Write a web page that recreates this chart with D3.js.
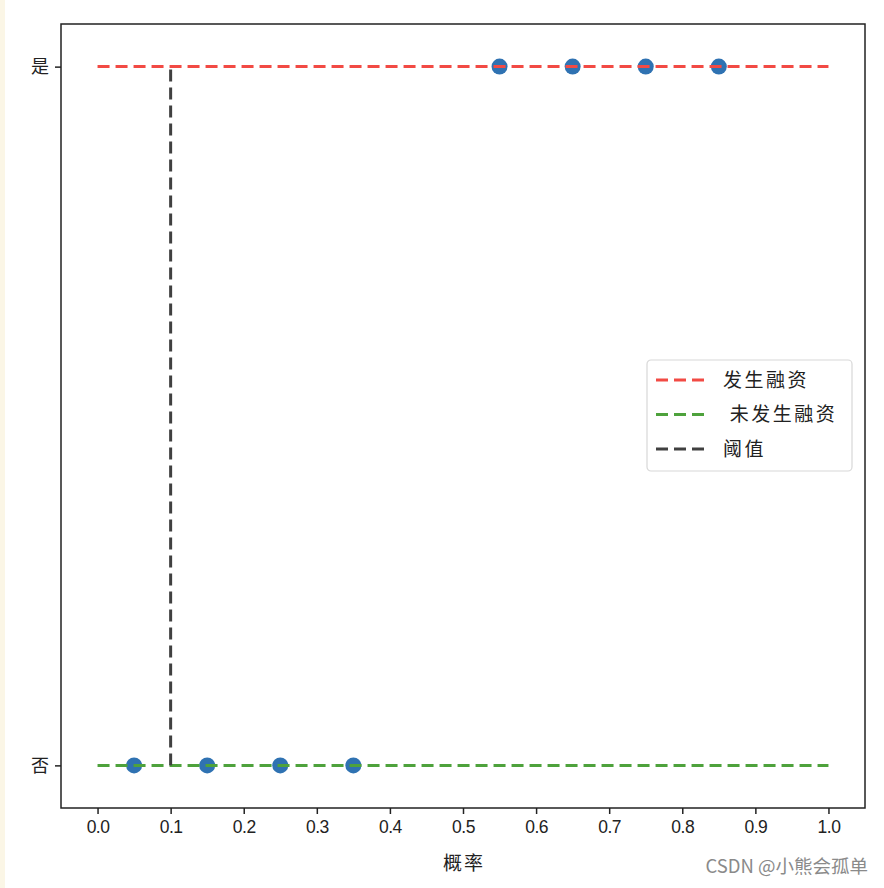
<!DOCTYPE html>
<html lang="en">
<head>
<meta charset="UTF-8">
<title>阈值</title>
<style>
  html, body { margin: 0; padding: 0; background: #fff; }
  body { width: 884px; height: 888px; overflow: hidden; }
  svg { display: block; font-family: "Noto Sans CJK SC", "DejaVu Sans", sans-serif; }
</style>
</head>
<body>
<svg width="884" height="888"></svg>
<script src="https://cdnjs.cloudflare.com/ajax/libs/d3/7.8.5/d3.min.js"></script>
<script>
  // chart data
  const probYes = [0.55, 0.65, 0.75, 0.85];
  const probNo = [0.05, 0.15, 0.25, 0.35];
  const threshold = 0.1;
  const xTicks = [0, 0.1, 0.2, 0.3, 0.4, 0.5, 0.6, 0.7, 0.8, 0.9, 1.0];
  const yLabels = ['否', '是'];
  const legendNames = ['发生融资', ' 未发生融资', '阈值'];

  const svg = d3.select('svg');

  // cream strip at the left edge of the screenshot
  svg.append('rect').attr('x', 0).attr('y', 0).attr('width', 5).attr('height', 888).attr('fill', '#fbf6e6');

  const margin = {top: 24, right: 19, bottom: 80, left: 61};
  const width = 884 - margin.left - margin.right;
  const height = 888 - margin.top - margin.bottom;
  const g = svg.append('g').attr('transform', `translate(${margin.left},${margin.top})`);

  const x = d3.scaleLinear().domain([-0.05, 1.05]).range([0, width]);
  const y = d3.scaleLinear().domain([-0.061, 1.061]).range([height, 0]);

  // axes
  const xAxis = g.append('g')
    .attr('transform', `translate(0,${height})`)
    .call(d3.axisBottom(x).tickValues(xTicks).tickFormat(d3.format('.1f')).tickSize(6).tickPadding(7));
  const yAxis = g.append('g')
    .call(d3.axisLeft(y).tickValues([0, 1]).tickFormat(d => yLabels[d]).tickSize(6).tickPadding(6));

  [xAxis, yAxis].forEach(a => {
    a.select('.domain').remove();
    a.selectAll('line').attr('stroke', '#222').attr('stroke-width', 1.5);
    a.selectAll('text').attr('fill', '#222').attr('font-size', 17.5)
      .attr('font-family', '"Liberation Sans", Arial, sans-serif')
      .attr('letter-spacing', -0.5);
  });
  yAxis.selectAll('text').attr('font-family', '"Noto Sans CJK SC", sans-serif')
    .attr('font-size', 18).attr('letter-spacing', 0).attr('dy', '0.35em');

  // scatter points
  const pts = probNo.map(p => ({p, v: 0})).concat(probYes.map(p => ({p, v: 1})));
  g.selectAll('circle.pt').data(pts).enter()
    .append('circle')
    .attr('class', 'pt')
    .attr('cx', d => x(d.p))
    .attr('cy', d => y(d.v))
    .attr('r', 8)
    .attr('fill', '#2f72b2');

  // dashed lines
  const line = d3.line().x(d => x(d[0])).y(d => y(d[1]));
  const series = [
    {name: legendNames[0], color: '#f24a44', pts: [[0, 1], [1, 1]]},
    {name: legendNames[1], color: '#4ea23c', pts: [[0, 0], [1, 0]]},
    {name: legendNames[2], color: '#404040', pts: [[threshold, 0], [threshold, 1]]}
  ];
  g.selectAll('path.ser').data(series).enter()
    .append('path')
    .attr('class', 'ser')
    .attr('fill', 'none')
    .attr('stroke', d => d.color)
    .attr('stroke-width', 3)
    .attr('stroke-dasharray', '12,6')
    .attr('d', d => line(d.pts));

  // frame
  g.append('rect')
    .attr('width', width).attr('height', height)
    .attr('fill', 'none').attr('stroke', '#222').attr('stroke-width', 1.5);

  // x label
  g.append('text')
    .attr('x', width / 2 + 1).attr('y', height + 62)
    .attr('text-anchor', 'middle').attr('font-size', 19).attr('fill', '#222')
    .attr('letter-spacing', 2)
    .attr('font-family', '"Noto Sans CJK SC", sans-serif')
    .text('概率');

  // legend
  const lg = svg.append('g').attr('transform', 'translate(647,360)');
  lg.append('rect')
    .attr('width', 205).attr('height', 111).attr('rx', 4)
    .attr('fill', '#fff').attr('stroke', '#d8d8d8').attr('stroke-width', 1.2);
  const items = lg.selectAll('g.item').data(series).enter()
    .append('g').attr('class', 'item')
    .attr('transform', (d, i) => `translate(0,${20 + i * 34.5})`);
  items.append('line')
    .attr('x1', 9).attr('x2', 57)
    .attr('stroke', d => d.color).attr('stroke-width', 3).attr('stroke-dasharray', '12,6');
  items.append('text')
    .attr('x', 76).attr('dy', '0.35em')
    .attr('font-size', 19).attr('fill', '#222')
    .attr('letter-spacing', 2.5)
    .attr('font-family', '"Noto Sans CJK SC", sans-serif')
    .attr('xml:space', 'preserve')
    .style('white-space', 'pre')
    .text(d => d.name);

  // watermark
  svg.append('text')
    .attr('x', 868).attr('y', 873).attr('text-anchor', 'end')
    .attr('font-size', 18.5).attr('fill', '#8a8a8a')
    .attr('font-family', '"Noto Sans CJK SC", sans-serif')
    .text('CSDN @小熊会孤单');
</script>
</body>
</html>
